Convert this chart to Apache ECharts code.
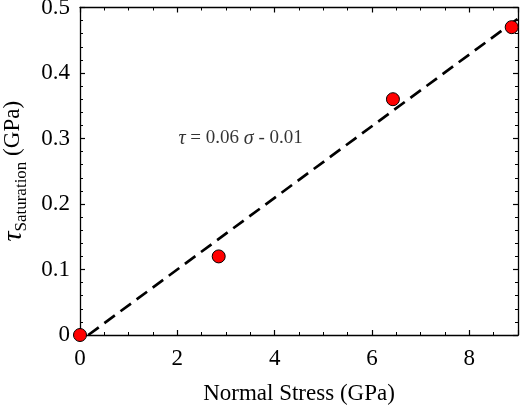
<!DOCTYPE html>
<html><head><meta charset="utf-8">
<script src="https://cdn.jsdelivr.net/npm/echarts@6/dist/echarts.min.js"></script>
<style>html,body{margin:0;padding:0;background:#fff}#c{width:520px;height:406px}</style>
</head><body><div id="c"></div>
<script>
const stress = [0, 2.85, 6.43, 8.87];
const tauSat = [0, 0.12, 0.36, 0.47];
const fitX = [0.17, 9.0];
const fitY = [0, 0.483];
const xTicks = [0, 2, 4, 6, 8];
const yTicks = [0, 0.1, 0.2, 0.3, 0.4, 0.5];
const eqPos = [3.3, 0.3];
const eqText = '{i|τ} = 0.06 {i|σ} - 0.01';

const F = 'Liberation Serif';
const chart = echarts.init(document.getElementById('c'));
const line = {show: true, onZero: false, lineStyle: {color: '#000', width: 1.3}};
const tick = {show: true, inside: true, length: 5, lineStyle: {color: '#000', width: 1.2}};
const minor = n => ({show: true, splitNumber: n, length: 3, lineStyle: {color: '#000', width: 1}});
const fmtX = v => xTicks.includes(v) ? String(v) : '';
const fmtY = v => { const r = Math.round(v*10)/10; return yTicks.includes(r) ? (r === 0 ? '0' : r.toFixed(1)) : ''; };
chart.setOption({
  animation: false,
  grid: {left: 80, right: 2, top: 7.5, bottom: 71, containLabel: false, outerBoundsMode: 'none'},
  xAxis: [
    {type: 'value', min: 0, max: 9, interval: 2, position: 'bottom',
      axisLine: line, axisTick: tick, minorTick: minor(4), splitLine: {show: false},
      axisLabel: {fontFamily: F, fontSize: 23, color: '#000', margin: 12, formatter: fmtX, showMaxLabel: false},
      name: 'Normal Stress (GPa)', nameLocation: 'middle', nameGap: 47,
      nameTextStyle: {fontFamily: F, fontSize: 23, color: '#000'}},
    {type: 'value', min: 0, max: 9, interval: 2, position: 'top',
      axisLine: line, axisTick: tick, minorTick: minor(4), splitLine: {show: false},
      axisLabel: {show: false}}
  ],
  yAxis: [
    {type: 'value', min: 0, max: 0.5, interval: 0.1, position: 'left',
      axisLine: line, axisTick: tick, minorTick: minor(5), splitLine: {show: false},
      axisLabel: {fontFamily: F, fontSize: 23, color: '#000', margin: 10, formatter: fmtY},
      name: '{t|τ}{s|Saturation}{g| (GPa)}', nameLocation: 'middle', nameGap: 46, nameRotate: 90,
      nameTextStyle: {fontFamily: F, color: '#000', rich: {
        t: {fontFamily: F, fontSize: 28, fontStyle: 'italic', color: '#000', lineHeight: 34, verticalAlign: 'middle'},
        s: {fontFamily: F, fontSize: 17, color: '#000', lineHeight: 34, verticalAlign: 'bottom', padding: [10, 0, 0, 0]},
        g: {fontFamily: F, fontSize: 23, color: '#000', lineHeight: 34, verticalAlign: 'middle'}
      }}},
    {type: 'value', min: 0, max: 0.5, interval: 0.1, position: 'right',
      axisLine: line, axisTick: tick, minorTick: minor(5), splitLine: {show: false},
      axisLabel: {show: false}}
  ],
  series: [
    {type: 'line', data: fitX.map((x, i) => [x, fitY[i]]), symbol: 'none',
      lineStyle: {color: '#000', width: 2.7, type: [13, 7]}, clip: false, z: 2},
    {type: 'scatter', data: stress.map((x, i) => [x, tauSat[i]]), symbol: 'circle', symbolSize: 13,
      itemStyle: {color: '#ff0000', borderColor: '#000', borderWidth: 1, opacity: 1}, clip: false, z: 3},
    {type: 'scatter', data: [eqPos], symbolSize: 0, silent: true,
      label: {show: true, position: 'inside', formatter: eqText, fontFamily: F, fontSize: 19, color: '#000',
        rich: {i: {fontFamily: F, fontSize: 20, fontStyle: 'italic', color: '#000'}}}}
  ]
});
</script></body></html>
